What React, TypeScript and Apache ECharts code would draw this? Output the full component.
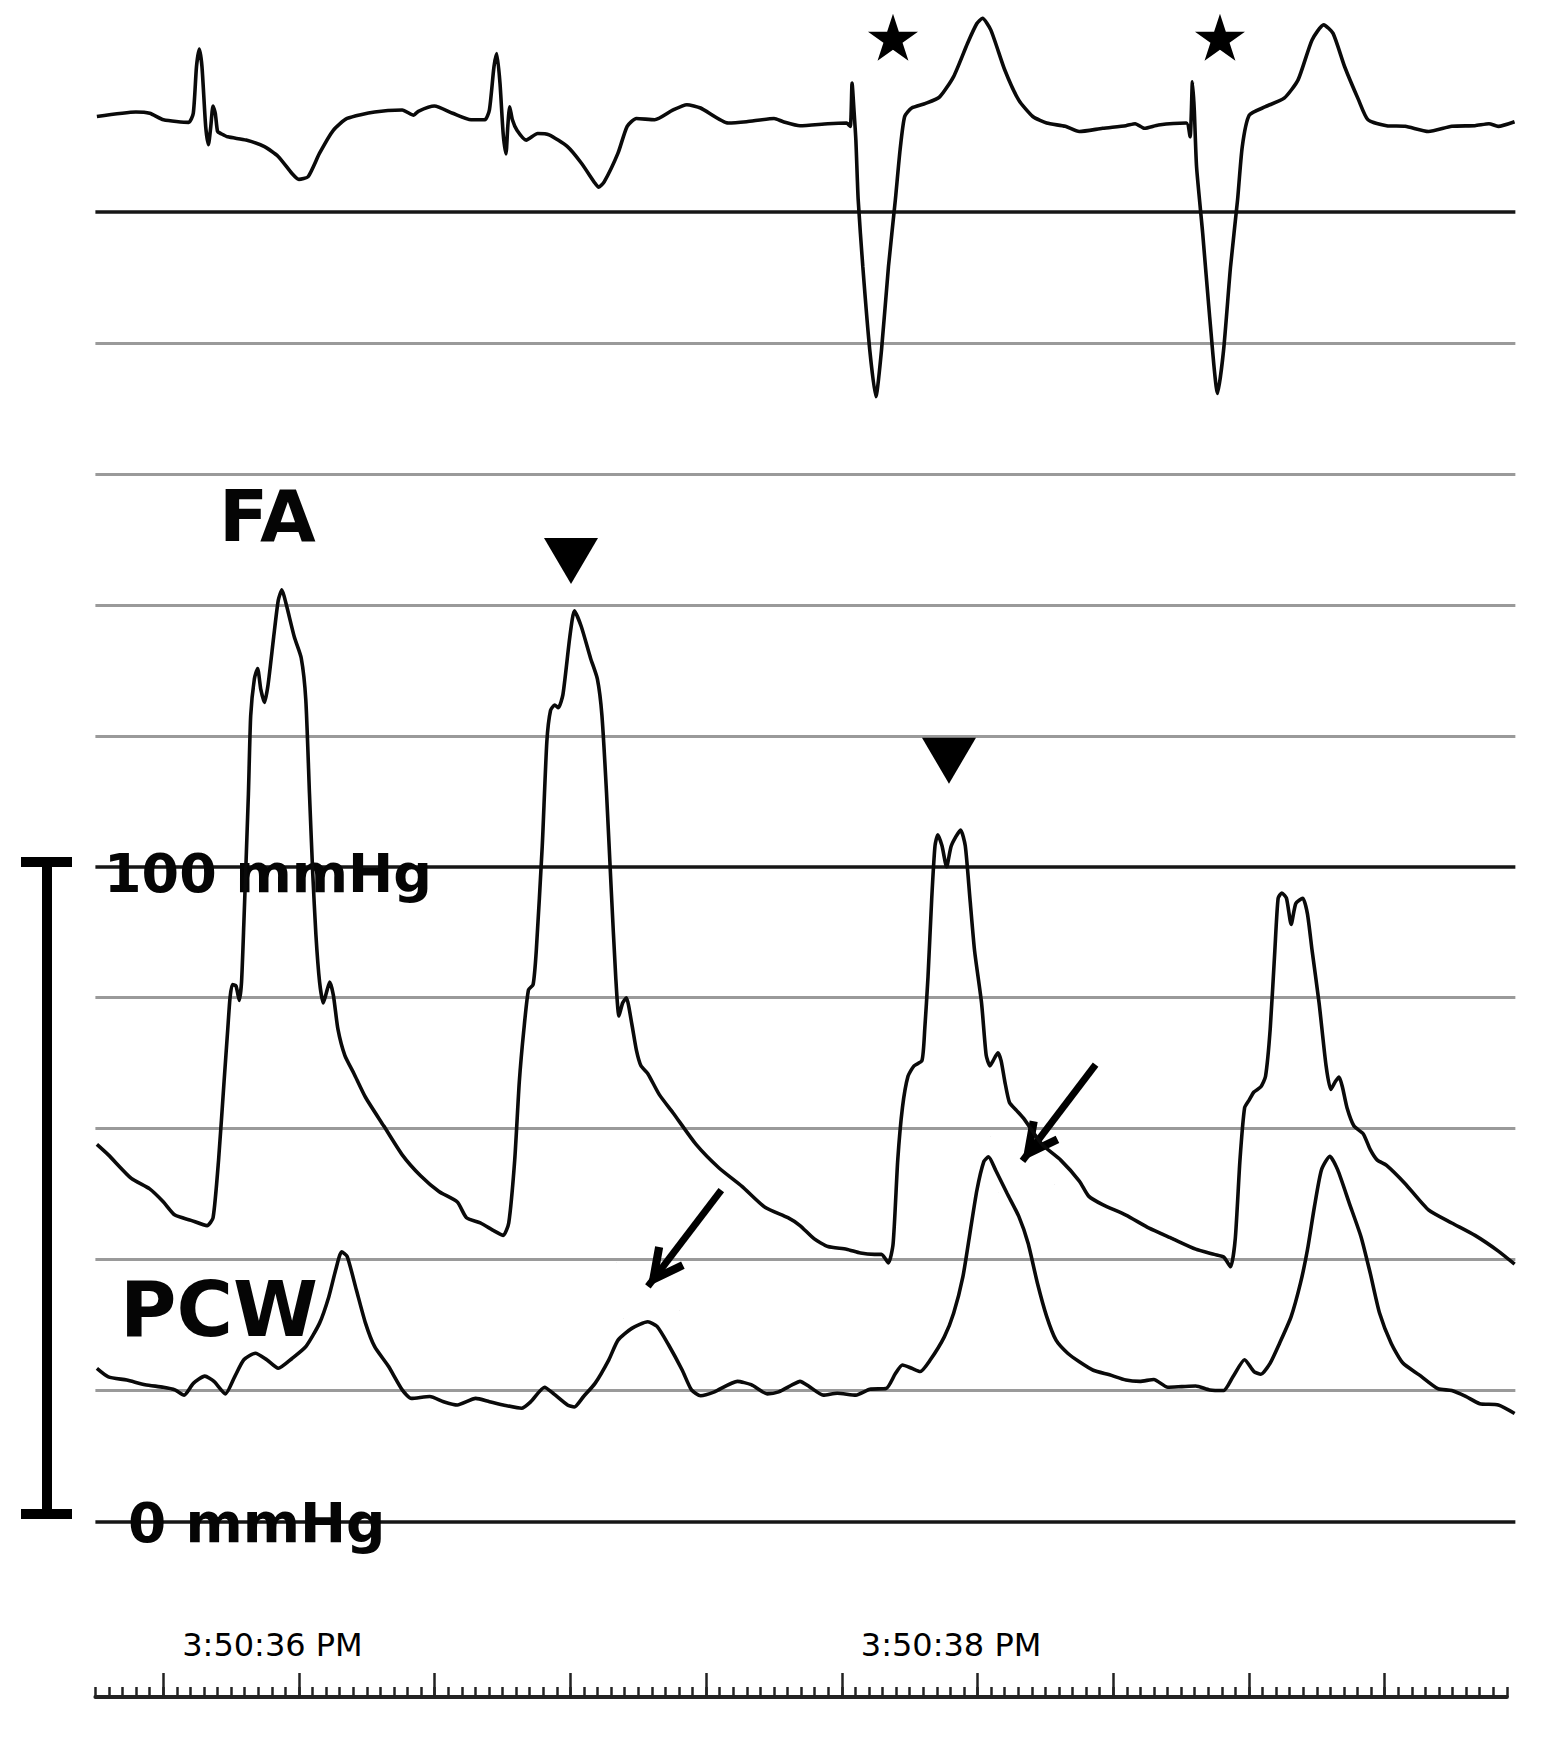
import React, { useEffect, useRef } from "react";
import * as echarts from "echarts";

// ---- traces: [time in s after 3:50:00 PM, value on the pressure scale (mmHg)] ----
// ECG lead, drawn on the same vertical scale above the 200 mmHg line
const ecgTrace: [number, number][] = [
  [35.4044, 214.6], [35.5193, 215.3], [35.56, 215.1], [35.6007, 214.1], [35.6749, 213.7],
  [35.6885, 215.1], [35.6979, 222.2], [35.7062, 224.9], [35.7141, 222.2], [35.725, 213.1],
  [35.7333, 210.3], [35.7401, 213.1], [35.7466, 216.2], [35.7533, 215.1], [35.7601, 212.3],
  [35.7698, 212.0], [35.7899, 211.5], [35.8441, 211.0], [35.8983, 210.0], [35.9387, 208.5],
  [35.9794, 205.9], [35.9997, 205.0], [36.0268, 205.4], [36.0607, 209.0], [36.1011, 212.5],
  [36.1418, 214.3], [36.2231, 215.3], [36.3042, 215.6], [36.3381, 214.8], [36.3516, 215.4],
  [36.3991, 216.2], [36.453, 215.1], [36.5072, 214.1], [36.5479, 214.1], [36.5612, 215.6],
  [36.5747, 222.2], [36.583, 224.2], [36.5924, 219.7], [36.6018, 212.0], [36.6101, 208.9],
  [36.6154, 213.1], [36.621, 216.1], [36.629, 214.1], [36.6425, 212.5], [36.6696, 211.0],
  [36.7035, 212.0], [36.7371, 211.8], [36.7913, 210.0], [36.832, 207.5], [36.8727, 204.4],
  [36.8833, 203.8], [36.8995, 204.6], [36.9402, 209.0], [36.9673, 213.1], [36.9944, 214.3],
  [37.0483, 214.1], [37.1026, 215.6], [37.1432, 216.4], [37.1836, 215.9], [37.265, 213.6],
  [37.3192, 213.8], [37.4002, 214.3], [37.4273, 213.8],
  [37.4766, 213.2], [37.5588, 213.5], [37.6139, 213.6], [37.6248, 213.1], [37.6301, 219.7],
  [37.6357, 215.6], [37.6413, 211.0], [37.6481, 201.9], [37.6617, 191.7], [37.6823, 178.9],
  [37.7003, 171.8], [37.7168, 178.9], [37.7374, 191.7], [37.7577, 201.9], [37.7716, 209.5],
  [37.7851, 214.6], [37.8058, 215.9], [37.847, 216.6], [37.8883, 217.6], [37.9293, 220.7],
  [37.9705, 225.8], [37.9979, 228.8], [38.0144, 229.6], [38.0392, 227.8], [38.0802, 221.7],
  [38.1214, 217.1], [38.1627, 214.6], [38.2036, 213.6], [38.2588, 213.1], [38.2997, 212.3],
  [38.3684, 212.8], [38.4371, 213.2], [38.4645, 213.5], [38.4919, 212.8], [38.5331, 213.3],
  [38.6154, 213.6], [38.6263, 211.5], [38.6333, 219.9], [38.6387, 215.6], [38.6454, 206.9],
  [38.6634, 196.8], [38.684, 184.0], [38.7073, 172.3], [38.725, 178.9], [38.7456, 191.7],
  [38.7663, 201.9], [38.7801, 210.0], [38.8007, 214.8], [38.8485, 216.1], [38.9036, 217.4],
  [38.9446, 220.2], [38.9858, 226.3], [39.02, 228.6], [39.0477, 227.3], [39.0819, 222.2],
  [39.1232, 217.1], [39.1506, 214.1], [39.2054, 213.2], [39.2602, 213.1], [39.3289, 212.3],
  [39.3976, 213.1], [39.4659, 213.2], [39.5072, 213.5], [39.5346, 213.1], [39.5826, 213.8],
];

// Femoral artery pressure (mmHg)
const faTrace: [number, number][] = [
  [35.4044, 57.6], [35.4382, 56.0], [35.5059, 52.4], [35.56, 50.8], [35.6006, 48.8],
  [35.6344, 46.8], [35.6818, 46.0], [35.7292, 45.2], [35.7468, 46.4], [35.763, 55.2],
  [35.7792, 67.2], [35.7901, 75.2], [35.7968, 80.0], [35.8036, 82.0], [35.8144, 81.8],
  [35.8239, 79.6], [35.8307, 82.4], [35.8374, 91.2], [35.851, 111.2], [35.8577, 123.1],
  [35.8685, 128.7], [35.878, 130.3], [35.8875, 127.1], [35.8983, 125.1], [35.9091, 127.9],
  [35.9254, 135.1], [35.9389, 140.7], [35.9497, 142.3], [35.9633, 139.9], [35.9863, 135.1],
  [36.0066, 131.9], [36.0201, 125.5], [36.0309, 111.2], [36.0404, 99.2], [36.0499, 89.6],
  [36.0607, 82.4], [36.0715, 79.2], [36.081, 80.8], [36.0905, 82.4], [36.1013, 80.4],
  [36.1148, 75.2], [36.1351, 71.2], [36.1622, 68.4], [36.196, 64.8], [36.2501, 60.4],
  [36.3043, 56.0], [36.3584, 52.8], [36.4125, 50.4], [36.4667, 48.8], [36.4937, 46.4],
  [36.5343, 45.6], [36.5749, 44.4], [36.602, 43.7], [36.6182, 45.6], [36.6358, 55.2],
  [36.6494, 67.2], [36.6629, 75.2], [36.6764, 81.2], [36.69, 82.0], [36.6994, 87.2],
  [36.717, 103.2], [36.7305, 119.1], [36.7414, 123.9], [36.7536, 124.7], [36.7644, 124.3],
  [36.7779, 126.3], [36.7982, 135.1], [36.8117, 139.1], [36.832, 136.7], [36.8591, 131.9],
  [36.8794, 128.7], [36.8929, 123.1], [36.9065, 111.2], [36.92, 96.8], [36.9335, 83.2],
  [36.943, 77.2], [36.9538, 79.2], [36.9647, 80.0], [36.9809, 76.0], [36.9944, 72.0],
  [37.0079, 69.6], [37.0282, 68.4], [37.062, 65.2], [37.1027, 62.4], [37.1703, 57.6],
  [37.238, 54.0], [37.3056, 51.2], [37.3733, 48.0], [37.441, 46.4],
  [37.4766, 45.2], [37.5178, 43.2], [37.5589, 42.0], [37.6138, 41.6], [37.655, 41.0],
  [37.6961, 40.8], [37.7167, 40.8], [37.7373, 39.5], [37.751, 42.4], [37.7647, 55.2],
  [37.7785, 63.2], [37.7949, 68.0], [37.8128, 69.6], [37.8361, 70.4], [37.8443, 75.2],
  [37.8539, 83.2], [37.8649, 95.2], [37.8745, 103.2], [37.8827, 104.9], [37.8951, 103.2],
  [37.9088, 100.0], [37.9225, 103.2], [37.95, 105.6], [37.9637, 103.2], [37.9774, 95.2],
  [37.9911, 87.2], [38.0117, 79.2], [38.0254, 71.2], [38.0364, 69.6], [38.046, 70.4],
  [38.0597, 71.6], [38.0693, 70.4], [38.0803, 67.2], [38.094, 64.0], [38.1146, 62.8],
  [38.1352, 61.6], [38.1901, 57.6], [38.245, 55.2], [38.2999, 52.0], [38.3273, 49.7],
  [38.3685, 48.4], [38.4371, 46.8], [38.5057, 44.8], [38.5743, 43.2], [38.6429, 41.6],
  [38.6978, 40.8], [38.7252, 40.4], [38.7458, 38.9], [38.7595, 43.2], [38.7733, 55.2],
  [38.787, 63.2], [38.8007, 64.4], [38.8144, 65.6], [38.835, 66.4], [38.8487, 68.0],
  [38.8624, 75.2], [38.8761, 87.2], [38.8858, 95.2], [38.8967, 96.0], [38.9104, 95.2],
  [38.9242, 91.2], [38.9379, 94.4], [38.9584, 95.2], [38.9722, 92.8], [38.9859, 87.2],
  [39.0065, 79.2], [39.0271, 69.6], [39.0408, 66.0], [39.0545, 67.2], [39.0655, 67.9],
  [39.0751, 66.4], [39.0888, 63.2], [39.1094, 60.4], [39.1368, 59.2], [39.1574, 56.8],
  [39.178, 55.2], [39.2054, 54.4], [39.2603, 51.6], [39.3289, 47.6], [39.3975, 45.6],
  [39.4661, 43.7], [39.5348, 41.3], [39.5828, 39.3],
];

// Pulmonary capillary wedge pressure (mmHg)
const pcwTrace: [number, number][] = [
  [35.4044, 23.4], [35.4382, 22.1], [35.4924, 21.6], [35.5465, 20.9], [35.6006, 20.5],
  [35.6344, 20.1], [35.6615, 19.3], [35.6886, 21.1], [35.7224, 22.2], [35.7495, 21.4],
  [35.7833, 19.5], [35.8104, 22.1], [35.8374, 24.7], [35.8713, 25.7], [35.9051, 24.7],
  [35.9389, 23.4], [35.9795, 24.9], [36.0201, 26.7], [36.0607, 30.3], [36.0878, 34.3],
  [36.1081, 38.4], [36.1257, 41.2], [36.1419, 40.5], [36.169, 35.4], [36.196, 30.3],
  [36.2231, 26.7], [36.2637, 23.7], [36.3043, 20.1], [36.3313, 18.8], [36.3855, 19.1],
  [36.4261, 18.3], [36.4667, 17.8], [36.5208, 18.8], [36.5614, 18.3], [36.602, 17.8],
  [36.6561, 17.3], [36.6832, 18.3], [36.7238, 20.5], [36.7508, 19.5], [36.7914, 17.8],
  [36.8117, 17.5], [36.8388, 19.1], [36.8726, 21.1], [36.9132, 24.7], [36.9403, 27.7],
  [36.9809, 29.5], [37.0282, 30.5], [37.0553, 29.8], [37.0891, 27.0], [37.1297, 23.1],
  [37.1568, 20.1], [37.1838, 19.2], [37.2244, 19.8], [37.2921, 21.4], [37.3327, 20.9],
  [37.3801, 19.5], [37.4139, 19.8], [37.4545, 20.9],
  [37.4766, 21.4], [37.504, 20.6], [37.5452, 19.3], [37.5864, 19.6], [37.6413, 19.3],
  [37.6824, 20.2], [37.7304, 20.3], [37.7579, 22.6], [37.7785, 23.9], [37.8059, 23.4],
  [37.8306, 22.9], [37.8608, 24.7], [37.9019, 28.2], [37.9294, 31.8], [37.9568, 37.4],
  [37.9774, 44.0], [37.998, 50.6], [38.0186, 55.0], [38.0323, 55.7], [38.0529, 53.7],
  [38.0872, 50.1], [38.1215, 46.6], [38.1489, 42.5], [38.1764, 36.4], [38.2038, 31.3],
  [38.2313, 27.7], [38.2656, 25.7], [38.2999, 24.4], [38.341, 23.1], [38.389, 22.4],
  [38.4371, 21.6], [38.4782, 21.4], [38.5194, 21.7], [38.5606, 20.5], [38.6017, 20.6],
  [38.6429, 20.7], [38.684, 20.1], [38.7252, 20.0], [38.7526, 22.1], [38.7869, 24.7],
  [38.8144, 22.9], [38.835, 22.5], [38.8624, 24.2], [38.8898, 27.2], [38.9241, 31.3],
  [38.9516, 36.4], [38.9722, 41.5], [38.9928, 48.1], [39.0134, 53.7], [39.0381, 55.8],
  [39.0614, 53.7], [39.0957, 48.6], [39.13, 43.5], [39.1574, 37.9], [39.1849, 31.8],
  [39.2192, 27.2], [39.2535, 24.2], [39.3015, 22.4], [39.3564, 20.3], [39.3975, 20.0],
  [39.4387, 19.1], [39.4798, 18.0], [39.5348, 17.8], [39.5828, 16.5],
];

// ---- scales, ticks and labels ----
const pressureMin = 0;
const pressureMax = 200;
const pressureStep = 20;
const boldPressureStep = 100;
const pressureLevels = [0, 20, 40, 60, 80, 100, 120, 140, 160, 180, 200];
const boldPressureLevels = [0, 100, 200];
const scaleBarTexts = ["100 mmHg", "0 mmHg"];
const traceNames = ["FA", "PCW"];

const timeStart = 35.4;
const timeEnd = 39.585;
const rulerEnd = 39.56;
const minorTickStep = 0.04;
const majorTickFirst = 35.6;
const majorTickLast = 39.2;
const majorTickStep = 0.4;
const timeMarkValues = [36, 38];
const timeMarkLabels = ["3:50:36 PM", "3:50:38 PM"];

// annotation marks (time, mmHg)
const starMarks: [number, number][] = [[37.7507, 226.7], [38.7144, 226.7]];
const triangleMarks: [number, number][] = [[36.8017, 146.7], [37.9157, 116.2]];
const arrowMarks: [[number, number], [number, number]][] = [
  [[37.2446, 50.6], [37.0283, 35.9]],
  [[38.3478, 69.8], [38.1323, 55.1]],
];

// ---- layout ----
const W = 1545;
const H = 1751;
const pxPerSecond = 339.3;
const pxPerMmHg = 6.547;
const plotLeft = 95.4;
const zeroPx = 1521.5;
const rulerTop = 1600;
const rulerAxisPx = 1697;
const LABEL_FONT = '"DejaVu Sans", "Liberation Sans", Arial, sans-serif';

const STAR =
  "path://M50,0 L61.2,34.5 L97.6,34.5 L68.2,55.9 L79.4,90.5 L50,69.1 L20.6,90.5 L31.8,55.9 L2.4,34.5 L38.8,34.5 Z";
const CHEVRON =
  "path://M39.2,39.2 L57.4,74.8 L50.27,78.4 L39.2,56.8 L28.13,78.4 L21,74.8 Z M0,39.2 L0.3,39.2 L0,39.5 Z M78.4,39.2 L78.1,39.2 L78.4,39.5 Z M39.2,0 L39.5,0 L39.2,0.3 Z";

function buildOption() {
  const plotWidth = (timeEnd - timeStart) * pxPerSecond;
  const topLinePx = zeroPx - pressureMax * pxPerMmHg;
  const hiddenAxis = { show: false };
  const textStyle = (size: number) => ({
    font: `bold ${size}px ${LABEL_FONT}`,
    fill: "#050505",
    textAlign: "left",
    textVerticalAlign: "middle",
    align: "left",
    verticalAlign: "middle",
  });
  const traceStyle = {
    showSymbol: false, symbol: "none", silent: true, z: 5, smooth: 0.2,
    lineStyle: { color: "#0a0a0a", width: 3.6 },
  };

  return {
    animation: false,
    backgroundColor: "#ffffff",
    grid: [
      { left: plotLeft, top: 0, width: plotWidth, height: zeroPx, outerBoundsMode: "none" },
      { left: plotLeft, top: topLinePx, width: plotWidth, height: zeroPx - topLinePx, outerBoundsMode: "none" },
      {
        left: plotLeft, top: rulerTop, width: (rulerEnd - timeStart) * pxPerSecond,
        height: rulerAxisPx - rulerTop, outerBoundsMode: "none",
      },
      {
        left: plotLeft + (majorTickFirst - timeStart) * pxPerSecond, top: rulerTop,
        width: (majorTickLast - majorTickFirst) * pxPerSecond,
        height: rulerAxisPx - rulerTop, outerBoundsMode: "none",
      },
    ],
    xAxis: [
      { gridIndex: 0, type: "value", min: timeStart, max: timeEnd, ...hiddenAxis },
      { gridIndex: 1, type: "value", min: timeStart, max: timeEnd, ...hiddenAxis },
      {
        gridIndex: 2, type: "value", min: timeStart, max: rulerEnd, interval: minorTickStep,
        position: "bottom",
        axisLine: { show: true, lineStyle: { color: "#222", width: 4 } },
        axisTick: { show: true, inside: true, length: 10, lineStyle: { color: "#222", width: 2.5 } },
        axisLabel: { show: false },
        splitLine: { show: false },
      },
      {
        gridIndex: 3, type: "value", min: majorTickFirst, max: majorTickLast, interval: majorTickStep,
        position: "bottom",
        axisLine: { show: false },
        axisTick: { show: true, inside: true, length: 24, lineStyle: { color: "#222", width: 2.5 } },
        axisLabel: {
          show: true, inside: true, margin: 36, fontSize: 32, fontFamily: LABEL_FONT, color: "#000",
          padding: [0, 53, 0, 0],
          formatter: (v: number) => {
            const i = timeMarkValues.findIndex((t) => Math.abs(t - v) < 0.001);
            return i >= 0 ? timeMarkLabels[i] : "";
          },
        },
        splitLine: { show: false },
      },
    ],
    yAxis: [
      { gridIndex: 0, type: "value", min: pressureMin, max: zeroPx / pxPerMmHg, ...hiddenAxis },
      {
        gridIndex: 1, type: "value", min: pressureMin, max: pressureMax, interval: pressureStep,
        axisLine: { show: false }, axisTick: { show: false }, axisLabel: { show: false },
        splitLine: {
          show: true,
          lineStyle: {
            width: 3,
            color: pressureLevels.map((v) => (boldPressureLevels.includes(v) ? "rgba(0,0,0,0)" : "#9a9a9a")),
          },
        },
      },
      {
        gridIndex: 1, type: "value", position: "right", min: pressureMin, max: pressureMax,
        interval: boldPressureStep,
        axisLine: { show: false }, axisTick: { show: false }, axisLabel: { show: false },
        splitLine: { show: true, lineStyle: { width: 3.5, color: "#161616" } },
      },
      { gridIndex: 2, type: "value", min: 0, max: 1, ...hiddenAxis },
      { gridIndex: 3, type: "value", min: 0, max: 1, ...hiddenAxis },
    ],
    series: [
      {
        type: "line", name: "ECG", xAxisIndex: 0, yAxisIndex: 0, data: ecgTrace, ...traceStyle,
        markPoint: {
          silent: true, symbol: STAR, symbolSize: [50, 47],
          itemStyle: { color: "#000" }, label: { show: false },
          data: starMarks.map((c) => ({ coord: c })),
        },
      },
      {
        type: "line", name: "FA", xAxisIndex: 0, yAxisIndex: 0, data: faTrace, ...traceStyle,
        markPoint: {
          silent: true, symbol: "triangle", symbolRotate: 180, symbolSize: [54, 46],
          itemStyle: { color: "#000" }, label: { show: false },
          data: triangleMarks.map((c) => ({ coord: c })),
        },
      },
      {
        type: "line", name: "PCW", xAxisIndex: 0, yAxisIndex: 0, data: pcwTrace, ...traceStyle,
        markLine: {
          silent: true, symbol: ["none", CHEVRON], symbolSize: 80,
          lineStyle: { color: "#000", width: 7, type: "solid", cap: "butt" },
          label: { show: false },
          data: arrowMarks.map(([a, b]) => [{ coord: a }, { coord: b }]),
        },
      },
    ],
    graphic: [
      { type: "text", x: 219, y: 516, z: 10, style: { text: traceNames[0], ...textStyle(72) } },
      { type: "text", x: 120, y: 1309, z: 10, style: { text: traceNames[1], ...textStyle(77) } },
      { type: "text", x: 104, y: 873, z: 1, style: { text: scaleBarTexts[0], ...textStyle(54) } },
      { type: "text", x: 128, y: 1523, z: 1, style: { text: scaleBarTexts[1], ...textStyle(55) } },
      { type: "line", z: 10, shape: { x1: 47, y1: 857, x2: 47, y2: 1519 }, style: { stroke: "#000", lineWidth: 10 } },
      { type: "line", z: 10, shape: { x1: 21, y1: 862, x2: 72, y2: 862 }, style: { stroke: "#000", lineWidth: 10 } },
      { type: "line", z: 10, shape: { x1: 21, y1: 1514, x2: 72, y2: 1514 }, style: { stroke: "#000", lineWidth: 10 } },
    ],
  };
}

export default function App() {
  const ref = useRef<HTMLDivElement>(null);
  useEffect(() => {
    document.body.style.margin = "0";
    if (!ref.current) return;
    const chart = echarts.init(ref.current, null, { renderer: "svg", width: W, height: H });
    chart.setOption(buildOption() as any);
    return () => chart.dispose();
  }, []);
  return <div ref={ref} style={{ width: W, height: H, background: "#ffffff" }} />;
}
